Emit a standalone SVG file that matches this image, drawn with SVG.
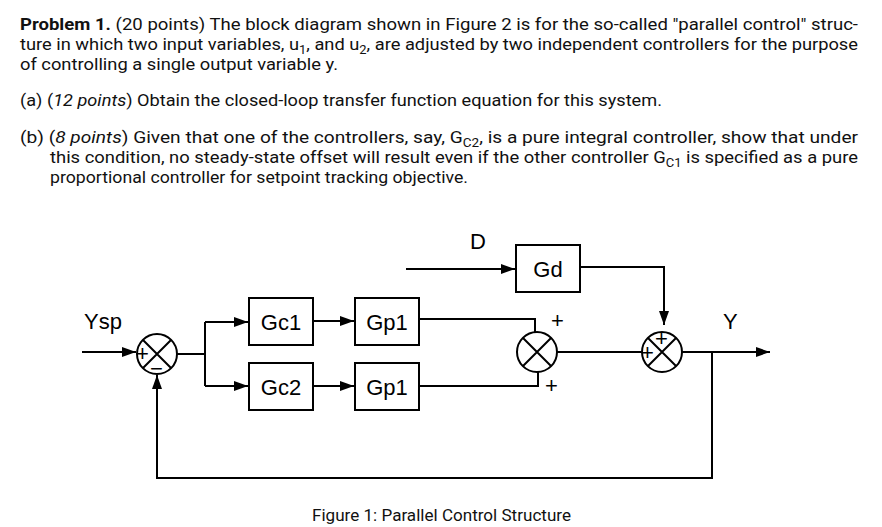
<svg xmlns="http://www.w3.org/2000/svg" width="882" height="527" viewBox="0 0 882 527">
<defs>
<marker id="ah" markerWidth="14" markerHeight="10" refX="14" refY="5" orient="auto" markerUnits="userSpaceOnUse"><path d="M0,0 L14,5 L0,10 Z" fill="#000"/></marker>
<style>
.t{font-family:Roboto,"Liberation Sans",sans-serif;font-size:17px;fill:#111}
.l{font-family:"Liberation Sans",Arial,sans-serif;font-size:22px;fill:#000}
.b{fill:#fff;stroke:#000;stroke-width:2}
.c{fill:none;stroke:#000;stroke-width:2}
.w{fill:none;stroke:#000;stroke-width:2}
</style>
</defs>
<rect width="882" height="527" fill="#fff"/>
<text class="t" x="20" y="30" textLength="838" lengthAdjust="spacingAndGlyphs"><tspan font-weight="bold">Problem 1.</tspan> (20 points) The block diagram shown in Figure 2 is for the so-called "parallel control" struc-</text>
<text class="t" x="20" y="50" textLength="838" lengthAdjust="spacingAndGlyphs">ture in which two input variables, u<tspan font-size="12" dy="4">1</tspan><tspan dy="-4">, and u</tspan><tspan font-size="12" dy="4">2</tspan><tspan dy="-4">, are adjusted by two independent controllers for the purpose</tspan></text>
<text class="t" x="20" y="70" textLength="318" lengthAdjust="spacingAndGlyphs">of controlling a single output variable y.</text>
<text class="t" x="20" y="106" textLength="642" lengthAdjust="spacingAndGlyphs">(a) (<tspan font-style="italic">12 points</tspan>) Obtain the closed-loop transfer function equation for this system.</text>
<text class="t" x="20" y="143" textLength="838" lengthAdjust="spacingAndGlyphs">(b) (<tspan font-style="italic">8 points</tspan>) Given that one of the controllers, say, G<tspan font-size="12" dy="4">C2</tspan><tspan dy="-4">, is a pure integral controller, show that under</tspan></text>
<text class="t" x="50" y="163" textLength="808" lengthAdjust="spacingAndGlyphs">this condition, no steady-state offset will result even if the other controller G<tspan font-size="12" dy="4">C1</tspan><tspan dy="-4"> is specified as a pure</tspan></text>
<text class="t" x="50" y="183" textLength="418" lengthAdjust="spacingAndGlyphs">proportional controller for setpoint tracking objective.</text>
<g id="connectors">
<path class="w" d="M82,352 H136" marker-end="url(#ah)"/>
<path class="w" d="M177,354 H205 M205,322 V386"/>
<path class="w" d="M205,322 H248" marker-end="url(#ah)"/>
<path class="w" d="M205,386 H248" marker-end="url(#ah)"/>
<path class="w" d="M314,321 H354" marker-end="url(#ah)"/>
<path class="w" d="M314,386 H354" marker-end="url(#ah)"/>
<path class="w" d="M419,319 H535 V332"/>
<path class="w" d="M419,386 H538 V372"/>
<path class="w" d="M557,352 H642"/>
<path class="w" d="M406,269 H515" marker-end="url(#ah)"/>
<path class="w" d="M581,267 H664 V325" marker-end="url(#ah)"/>
<path class="w" d="M682,352 H770" marker-end="url(#ah)"/>
<path class="w" d="M712,352 V478 H157 V375" marker-end="url(#ah)"/>
</g>
<g id="sum1"><circle class="c" cx="157" cy="354" r="20"/><path class="w" d="M143,340 L171,368 M171,340 L143,368"/>
<text class="l" x="136" y="361" font-size="19">+</text><text class="l" x="150" y="376" font-size="19">−</text></g>
<g id="gc1"><rect class="b" x="249" y="298" width="64" height="47"/><text class="l" x="281" y="330" text-anchor="middle">Gc1</text></g>
<g id="gp1a"><rect class="b" x="355" y="298" width="64" height="47"/><text class="l" x="387" y="330" text-anchor="middle">Gp1</text></g>
<g id="gc2"><rect class="b" x="249" y="363" width="64" height="47"/><text class="l" x="281" y="395" text-anchor="middle">Gc2</text></g>
<g id="gp1b"><rect class="b" x="355" y="363" width="64" height="47"/><text class="l" x="387" y="395" text-anchor="middle">Gp1</text></g>
<g id="sum2"><circle class="c" cx="537" cy="352" r="20"/><path class="w" d="M523,338 L551,366 M551,338 L523,366"/>
<text class="l" x="551" y="328" font-size="20">+</text><text class="l" x="545" y="393" font-size="20">+</text></g>
<g id="gd"><rect class="b" x="516" y="245" width="64" height="47"/><text class="l" x="548" y="277" text-anchor="middle">Gd</text></g>
<g id="sum3"><circle class="c" cx="662" cy="352" r="20"/><path class="w" d="M648,338 L676,366 M676,338 L648,366"/>
<text class="l" x="641" y="360" font-size="19">+</text><text class="l" x="655" y="346" font-size="19">+</text></g>
<text class="l" x="84" y="329">Ysp</text>
<text class="l" x="470" y="249">D</text>
<text class="l" x="723" y="329">Y</text>
<text class="t" x="312" y="521" textLength="259" lengthAdjust="spacingAndGlyphs">Figure 1: Parallel Control Structure</text>
</svg>
